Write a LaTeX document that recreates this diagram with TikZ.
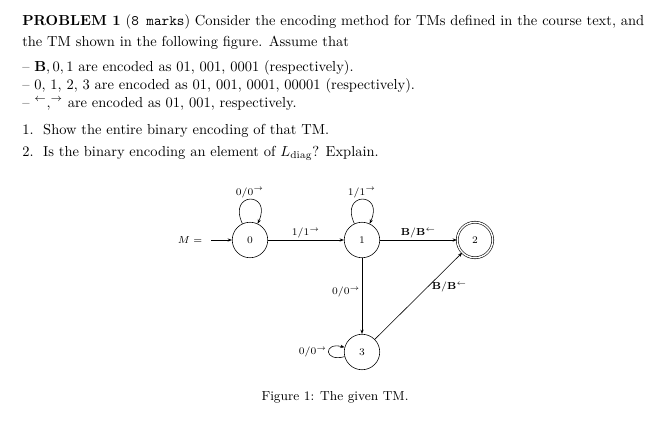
\documentclass[tikz,border=0pt]{standalone}
\usetikzlibrary{arrows.meta}
\begin{document}
\begin{tikzpicture}[x=0.69pt,y=-0.69pt,
  txt/.style={anchor=base west,inner sep=0pt},
  st/.style={draw,circle,minimum size=24.5pt,inner sep=0pt,font=\scriptsize},
  acc/.style={st,double,double distance=1pt},
  lbl/.style={font=\scriptsize,inner sep=1pt},
  edge/.style={-{Stealth[length=3pt]},thin}]
\useasboundingbox (0,0) rectangle (672,431);
\node[txt] (l1) at (22,26) {\textbf{PROBLEM 1} (\texttt{8 marks}) Consider the encoding method for TMs defined in the course text, and};
\node[txt] (l2) at (22,46) {the TM shown in the following figure. Assume that};
\node[txt] (l3) at (22,71) {-- $\mathbf{B},0,1$ are encoded as 01, 001, 0001 (respectively).};
\node[txt] (l4) at (22,89) {-- 0, 1, 2, 3 are encoded as 01, 001, 0001, 00001 (respectively).};
\node[txt] (l5) at (22,107) {-- ${}^{\leftarrow}{,}{}^{\rightarrow}$ are encoded as 01, 001, respectively.};
\node[txt] (l6) at (22,134) {1.\ \ Show the entire binary encoding of that TM.};
\node[txt] (l7) at (22,156) {2.\ \ Is the binary encoding an element of $L_{\mathrm{diag}}$? Explain.};

\node[st] (q0) at (250,240) {0};
\node[st] (q1) at (362,240) {1};
\node[acc] (q2) at (475,240) {2};
\node[st] (q3) at (362,352) {3};
\node[lbl] (m) at (190,240) {$M=$};
\coordinate (s) at (211,240);
\draw[edge] (s) -- (q0);
\draw[edge] (q0) -- node[lbl,above] {$1/1^{\rightarrow}$} (q1);
\draw[edge] (q1) -- node[lbl,above] {$\mathbf{B}/\mathbf{B}^{\leftarrow}$} (q2);
\draw[edge] (q1) -- node[lbl,left,pos=0.45] {$0/0^{\rightarrow}$} (q3);
\draw[edge] (q3) -- node[lbl,right,pos=0.6,xshift=2pt] {$\mathbf{B}/\mathbf{B}^{\leftarrow}$} (q2);
\draw[edge] (q0) to[out=115,in=65,looseness=6] node[lbl,above] {$0/0^{\rightarrow}$} (q0);
\draw[edge] (q1) to[out=115,in=65,looseness=6] node[lbl,above] {$1/1^{\rightarrow}$} (q1);
\draw[edge] (q3) to[out=195,in=165,looseness=6] node[lbl,left] {$0/0^{\rightarrow}$} (q3);
\node[lbl,font=\small] (cap) at (335,397) {Figure 1: The given TM.};
\end{tikzpicture}
\end{document}
